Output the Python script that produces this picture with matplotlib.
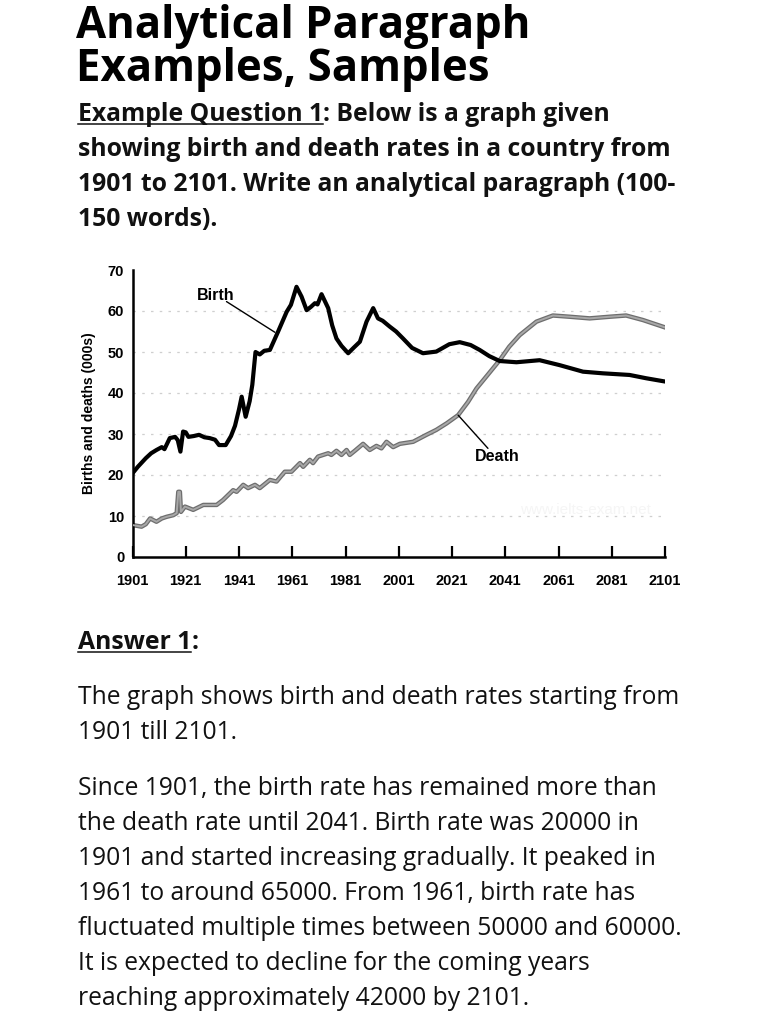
import matplotlib
matplotlib.use("Agg")
import matplotlib.pyplot as plt
from matplotlib.lines import Line2D

# values (thousands)
birth_years = [1901, 1903, 1906, 1908, 1910, 1912, 1913, 1915, 1917, 1918, 1919, 1920, 1921, 1922, 1924,
               1926, 1928, 1930, 1932, 1933.5, 1936, 1938, 1939.5, 1941, 1942, 1943.5, 1945, 1946, 1947.2,
               1948.8, 1950.5, 1952.6, 1955.7, 1958.9, 1960.5, 1962.6, 1964.5, 1966.4, 1968, 1969.5, 1970.5,
               1972, 1974.5, 1976, 1977.6, 1979.5, 1982, 1984, 1986.4, 1988.9, 1991.4, 1992.2, 1993.2, 1995,
               1997.6, 2000, 2002.6, 2006, 2010.1, 2015.1, 2020, 2023.9, 2028, 2031.4, 2035, 2038.9, 2045.2,
               2053.9, 2061.4, 2070.2, 2077.7, 2087.7, 2093.9, 2101]
birth_vals = [20.4, 22.0, 24.1, 25.3, 26.1, 26.8, 26.3, 29.0, 29.3, 28.5, 25.7, 30.6, 30.4, 29.3, 29.5,
              29.8, 29.2, 29.0, 28.6, 27.3, 27.3, 29.5, 32.0, 36.0, 39.1, 34.2, 38.0, 42.0, 50.0,
              49.4, 50.3, 50.5, 55.0, 59.8, 61.5, 65.9, 63.5, 60.2, 61.0, 61.9, 61.6,
              64.1, 60.7, 56.5, 53.3, 51.5, 49.7, 51.0, 52.5, 57.4, 60.7, 59.6, 58.2, 57.6,
              56.2, 55.0, 53.3, 51.0, 49.7, 50.1, 51.9, 52.4, 51.7, 50.5, 49.0, 47.8, 47.5,
              48.0, 46.8, 45.2, 44.8, 44.4, 43.6, 42.8]

death_years = [1901, 1904.4, 1906, 1907.6, 1910, 1912, 1913.8, 1916.3, 1917.6, 1918.2, 1918.8, 1919.2,
               1920.7, 1923.8, 1927.6, 1932.6, 1935, 1938.8, 1940.1, 1942.6, 1944.4, 1947, 1948.8, 1952.6,
               1955.1, 1958.2, 1960.7, 1963.9, 1965.1, 1967.6, 1968.8, 1970.7, 1974.5, 1975.7, 1977.6,
               1979.5, 1981.4, 1982.6, 1984.5, 1987.6, 1990.1, 1992.6, 1994.5, 1996.4, 1998.9, 2001.4,
               2006.4, 2011.4, 2015.1, 2019, 2023.3, 2027, 2030.2, 2034.5, 2038.9, 2042.5, 2046.4,
               2052.7, 2058.9, 2065.2, 2072.7, 2080.2, 2086.4, 2092.7, 2101]
death_vals = [7.8, 7.4, 8.0, 9.4, 8.6, 9.4, 9.8, 10.2, 10.7, 15.9, 15.9, 11.0,
              12.3, 11.5, 12.7, 12.7, 13.9, 16.3, 15.9, 17.6, 16.8, 17.6, 16.8, 18.8,
              18.4, 20.8, 20.8, 22.9, 22.0, 23.7, 22.9, 24.5, 25.3, 24.9, 25.9,
              24.9, 26.1, 24.9, 25.9, 27.6, 26.1, 27.1, 26.5, 28.1, 26.8, 27.6,
              28.1, 29.8, 31.0, 32.6, 34.6, 37.8, 41.1, 44.5, 48.0, 51.3, 54.1,
              57.4, 58.9, 58.6, 58.2, 58.6, 58.9, 57.8, 56.0]

x_ticks = list(range(1901, 2102, 20))
y_ticks = list(range(0, 71, 10))

title_lines = ["Analytical Paragraph", "Examples, Samples"]
question_lines = ["showing birth and death rates in a country from",
                  "1901 to 2101. Write an analytical paragraph (100-",
                  "150 words)."]
answer_intro = ["The graph shows birth and death rates starting from", "1901 till 2101."]
answer_body = ["Since 1901, the birth rate has remained more than",
               "the death rate until 2041. Birth rate was 20000 in",
               "1901 and started increasing gradually. It peaked in",
               "1961 to around 65000. From 1961, birth rate has",
               "fluctuated multiple times between 50000 and 60000.",
               "It is expected to decline for the coming years",
               "reaching approximately 42000 by 2101."]

W, H = 768, 1024
fig = plt.figure(figsize=(W / 100, H / 100), dpi=100)


def fx(x):
    return x / W


def fy(y):
    return 1 - y / H


page_font = "Open Sans"
txt_col = "#111111"

# heading
for i, line in enumerate(title_lines):
    fig.text(fx(76), fy(38 + i * 43), line, fontsize=31.5, fontweight="bold",
             family=page_font, va="baseline", color="black")

renderer = fig.canvas.get_renderer()


def underlined(x, y, head, tail, size):
    t = fig.text(fx(x), fy(y), head, fontsize=size, fontweight="bold", family=page_font,
                 va="baseline", color=txt_col)
    bb = t.get_window_extent(renderer)
    fig.text(bb.x1 / W, fy(y), tail, fontsize=size, fontweight="bold", family=page_font,
             va="baseline", color=txt_col)
    fig.add_artist(Line2D([fx(x), bb.x1 / W], [fy(y + 3), fy(y + 3)], color=txt_col, lw=1.1))


q_size = 17.8
underlined(78, 121, "Example Question 1", ": Below is a graph given", q_size)
for i, line in enumerate(question_lines):
    fig.text(fx(78), fy(156 + i * 35), line, fontsize=q_size, fontweight="bold",
             family=page_font, va="baseline", color=txt_col)

underlined(78, 649, "Answer 1", ":", q_size)
b_size = 17.7
for i, line in enumerate(answer_intro):
    fig.text(fx(78), fy(704 + i * 35), line, fontsize=b_size, family=page_font,
             va="baseline", color=txt_col)
for i, line in enumerate(answer_body):
    fig.text(fx(78), fy(795 + i * 35), line, fontsize=b_size, family=page_font,
             va="baseline", color=txt_col)

# chart
x0, x1, y0, y1 = 132.5, 665, 557, 270
ax = fig.add_axes([fx(x0), fy(y0), fx(x1) - fx(x0), fy(y1) - fy(y0)])
ax.set_xlim(1901, 2101)
ax.set_ylim(0, 70)

for v in y_ticks[1:-1]:
    ax.axhline(v, color="#cfcfcf", lw=0.9, ls=(0, (2, 5)), zorder=0)

ax.text(2071, 11.5, "www.ielts-exam.net", ha="center", va="center", fontsize=11,
        family="Liberation Sans", color="#f5f5f5", zorder=0)

ax.plot(death_years, death_vals, color="#6e6e6e", lw=3.2, solid_joinstyle="round", zorder=2)
ax.plot(death_years, death_vals, color="#a8a8a8", lw=1.4, solid_joinstyle="round", zorder=3)
ax.plot(birth_years, birth_vals, color="black", lw=3.0, solid_joinstyle="round",
        solid_capstyle="round", zorder=4)

lab_font = dict(fontsize=11.5, fontweight="bold", family="Liberation Sans")
ax.text(1932.3, 63.9, "Birth", ha="center", va="center", **lab_font)
ax.annotate("", xy=(1954.5, 54.8), xytext=(1936.3, 62.3),
            arrowprops=dict(arrowstyle="-", color="black", lw=1.0, shrinkA=0, shrinkB=0))
ax.text(2038.1, 24.6, "Death", ha="center", va="center", **lab_font)
ax.annotate("", xy=(2023.3, 34.6), xytext=(2034.5, 26.5),
            arrowprops=dict(arrowstyle="-", color="black", lw=1.0, shrinkA=0, shrinkB=0))

for s in ["top", "right"]:
    ax.spines[s].set_visible(False)
for s in ["left", "bottom"]:
    ax.spines[s].set_linewidth(1.8)
    ax.spines[s].set_color("black")

ax.set_xticks(x_ticks)
ax.set_yticks(y_ticks)
ax.tick_params(axis="x", direction="in", length=8, width=1.6, pad=12.5)
ax.tick_params(axis="y", length=0, pad=6)
for lab in ax.get_xticklabels() + ax.get_yticklabels():
    lab.set_fontweight("bold")
    lab.set_fontsize(10.5)
    lab.set_family("Liberation Sans")

ax.set_ylabel("Births and deaths (000s)", fontsize=10, fontweight="bold",
              family="Liberation Sans")
ax.yaxis.set_label_coords((96 - x0) / (x1 - x0), 0.5)

fig.savefig("out.png", dpi=100)
